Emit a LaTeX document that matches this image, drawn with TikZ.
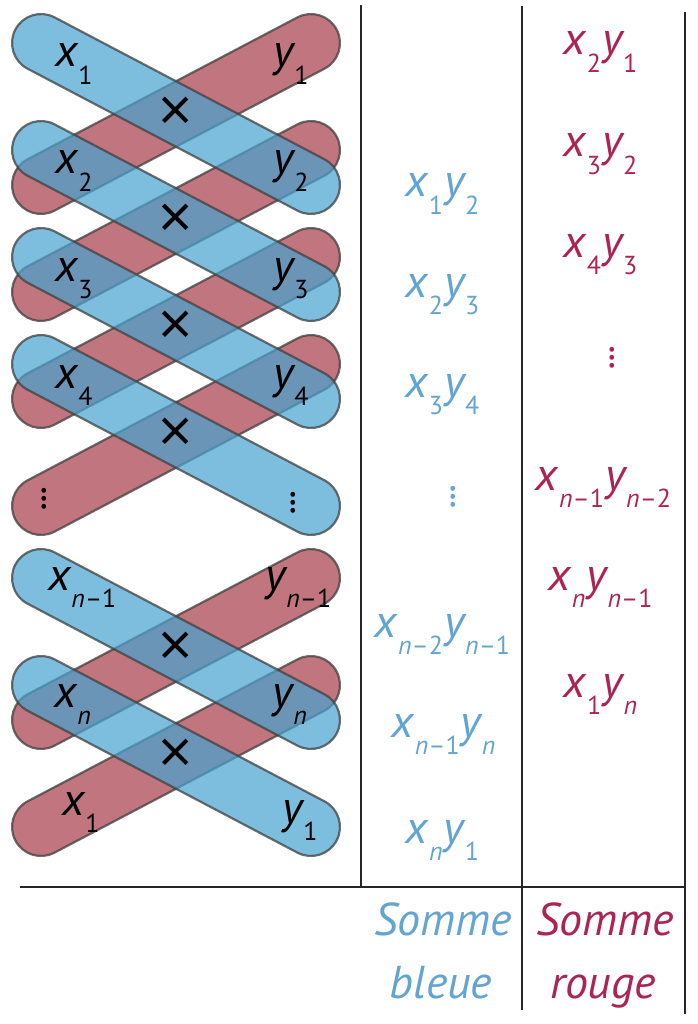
\documentclass[tikz,border=0pt]{standalone}
\usepackage{fontspec}
\setmainfont{PT Sans}
\newfontfamily\crossfont{Open Sans}
\usetikzlibrary{positioning}

\definecolor{barblue}{RGB}{70,163,208}
\definecolor{barred}{RGB}{166,58,72}
\definecolor{txtblue}{RGB}{98,164,210}
\definecolor{txtred}{RGB}{172,36,84}

\newcommand{\bigfont}{\fontsize{46}{50}\selectfont\itshape}
\newcommand{\sbs}[1]{\kern1pt\raisebox{-0.38em}{\fontsize{26}{26}\selectfont\upshape #1}\kern1pt}
\newcommand{\nn}{\textit{n}}

\begin{document}
\begin{tikzpicture}[
    x=1pt, y=-1pt,
    capsule/.style={
        rectangle,
        rounded corners=29pt,
        minimum width=363pt,
        minimum height=58pt,
        inner sep=0pt,
        line width=2.2pt,
        draw=black!75,
        draw opacity=.75,
        fill opacity=.7
    },
    bluecap/.style={capsule, fill=barblue, rotate=-27.74},
    redcap/.style={capsule, fill=barred, rotate=27.74},
    lbl/.style={anchor=base west, inner sep=0pt, font=\bigfont},
    dots/.style={inner sep=0pt, rotate=90, font=\fontsize{30}{30}\selectfont\bfseries},
    cross/.style={inner sep=0pt, font=\crossfont\fontsize{60}{60}\selectfont},
    sumblue/.style={anchor=base, inner sep=0pt, font=\bigfont, text=txtblue},
    sumred/.style={anchor=base, inner sep=0pt, font=\bigfont, text=txtred},
    rule/.style={line width=2.6pt, draw=black!85}
]
\useasboundingbox (0,0) rectangle (697,1024);

% Crossed capsules: red ones first, blue ones on top
\foreach \L [count=\i] in {43,150,257,364,578,685}
    \node[redcap] (red\i) at (176,\L+71) {};
\foreach \L [count=\i] in {43,150,257,364,578,685}
    \node[bluecap] (blue\i) at (176,\L+71) {};
\foreach \L [count=\i] in {43,150,257,364,578,685}
    \node[cross] (times\i) at (blue\i.center) {×};

% Left labels
\node[lbl] (xa) at (55,67) {x\sbs{1}};
\node[lbl] (xb) at (55,174) {x\sbs{2}};
\node[lbl] (xc) at (55,281) {x\sbs{3}};
\node[lbl] (xd) at (55,388) {x\sbs{4}};
\node[dots] (xdots) at (44,499) {...};
\node[lbl] (xe) at (48,590) {x\sbs{\nn--1}};
\node[lbl] (xf) at (54,707) {x\sbs{\nn}};
\node[lbl] (xg) at (62,815) {x\sbs{1}};

% Right labels
\node[lbl] (ya) at (273,67) {y\sbs{1}};
\node[lbl] (yb) at (273,174) {y\sbs{2}};
\node[lbl] (yc) at (273,281) {y\sbs{3}};
\node[lbl] (yd) at (273,388) {y\sbs{4}};
\node[dots] (ydots) at (293,503) {...};
\node[lbl] (ye) at (265,590) {y\sbs{\nn--1}};
\node[lbl] (yf) at (272,707) {y\sbs{\nn}};
\node[lbl] (yg) at (282,823) {y\sbs{1}};

% Table rules
\draw[rule] (361,5) -- (361,887);
\draw[rule] (522,6) -- (522,1010);
\draw[rule] (685,12) -- (685,1014);
\draw[rule] (20,887) -- (685,887);

% Blue sum
\node[sumblue] (b1) at (443,197) {x\sbs{1}y\sbs{2}};
\node[sumblue] (b2) at (443,297) {x\sbs{2}y\sbs{3}};
\node[sumblue] (b3) at (443,397) {x\sbs{3}y\sbs{4}};
\node[dots, text=txtblue] (bdots) at (453,497) {...};
\node[sumblue] (b4) at (443,637) {x\sbs{\nn--2}y\sbs{\nn--1}};
\node[sumblue] (b5) at (444,737) {x\sbs{\nn--1}y\sbs{\nn}};
\node[sumblue] (b6) at (443,843) {x\sbs{\nn}y\sbs{1}};

% Red sum
\node[sumred] (r1) at (601,55) {x\sbs{2}y\sbs{1}};
\node[sumred] (r2) at (601,157) {x\sbs{3}y\sbs{2}};
\node[sumred] (r3) at (601,257) {x\sbs{4}y\sbs{3}};
\node[dots, text=txtred] (rdots) at (612,358) {...};
\node[sumred] (r4) at (604,490) {x\sbs{\nn--1}y\sbs{\nn--2}};
\node[sumred] (r5) at (601,590) {x\sbs{\nn}y\sbs{\nn--1}};
\node[sumred] (r6) at (601,697) {x\sbs{1}y\sbs{\nn}};

% Column titles
\node[sumblue] (sb1) at (443,935) {Somme};
\node[sumblue] (sb2) at (441,998) {bleue};
\node[sumred] (sr1) at (605,935) {Somme};
\node[sumred] (sr2) at (603,998) {rouge};

\end{tikzpicture}
\end{document}
